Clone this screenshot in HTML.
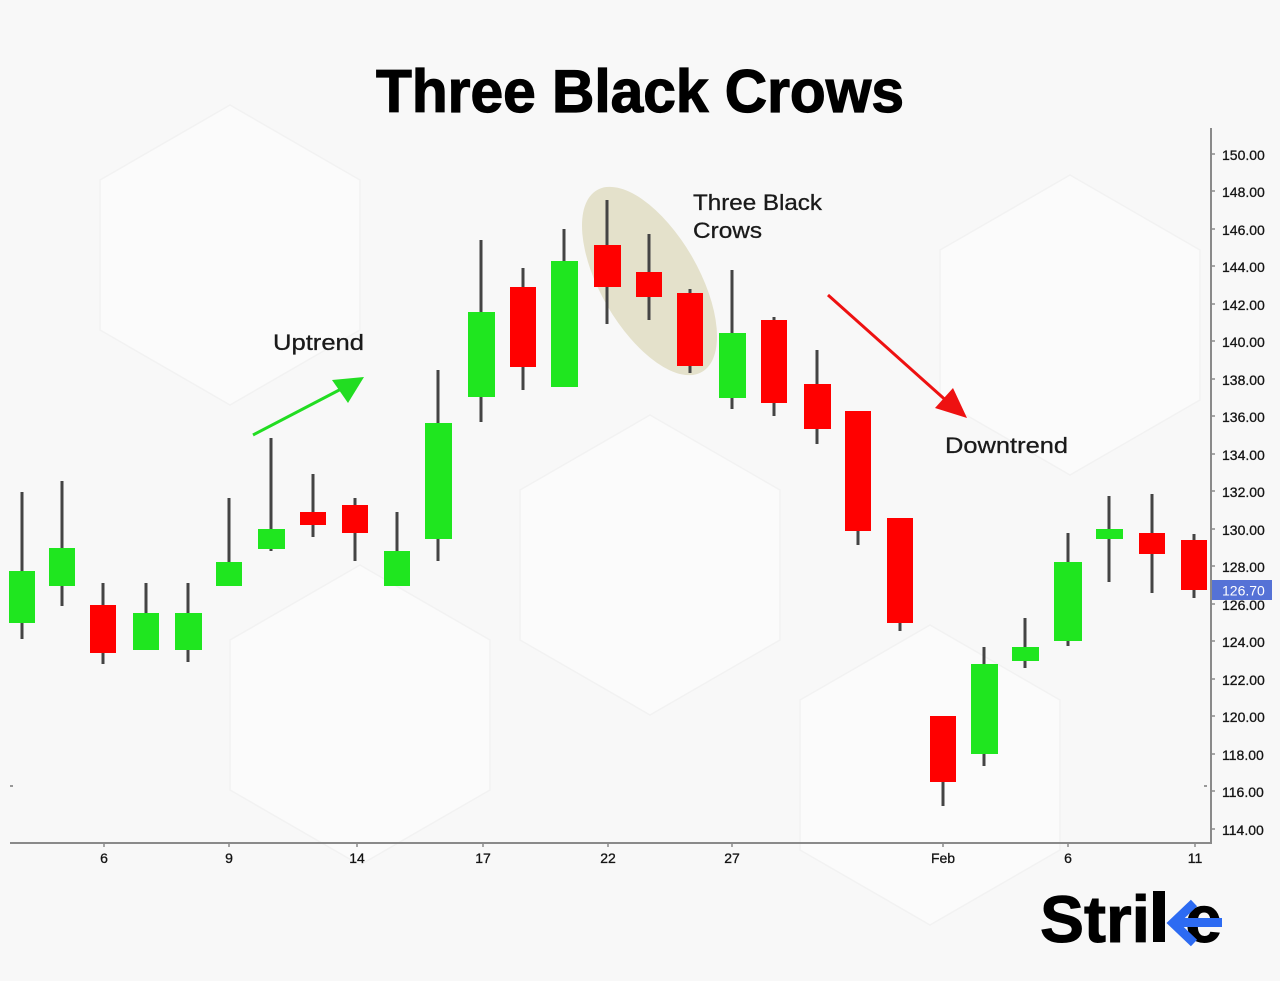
<!DOCTYPE html>
<html><head><meta charset="utf-8"><style>
html,body{margin:0;padding:0;background:#f8f8f8;}
svg{display:block;}
</style></head><body>
<svg width="1280" height="981" viewBox="0 0 1280 981" xmlns="http://www.w3.org/2000/svg">
<rect x="0" y="0" width="1280" height="981" fill="#f8f8f8"/>
<g fill="#fbfbfb" stroke="#f2f2f2" stroke-width="1.5">
<polygon points="520,490 650,415 780,490 780,640 650,715 520,640"/>
<polygon points="940,250 1070,175 1200,250 1200,400 1070,475 940,400"/>
<polygon points="100,180 230,105 360,180 360,330 230,405 100,330"/>
<polygon points="230,640 360,565 490,640 490,790 360,865 230,790"/>
<polygon points="800,700 930,625 1060,700 1060,850 930,925 800,850"/>
</g>
<!-- title -->
<text x="640" y="112" text-anchor="middle" font-family="Liberation Sans, sans-serif" font-weight="bold" font-size="60" fill="#000" stroke="#000" stroke-width="1.2" textLength="528" lengthAdjust="spacingAndGlyphs">Three Black Crows</text>
<!-- ellipse -->
<ellipse cx="649.5" cy="281" rx="105" ry="49" transform="rotate(60 649.5 281)" fill="#e4e1cb"/>
<!-- axes -->
<line x1="1211" y1="128" x2="1211" y2="843" stroke="#8a8a8a" stroke-width="2"/>
<line x1="10" y1="843" x2="1212" y2="843" stroke="#8a8a8a" stroke-width="2"/>
<g stroke="#8a8a8a" stroke-width="1.5">
<line x1="1211" y1="154" x2="1215" y2="154"/><line x1="1211" y1="191" x2="1215" y2="191"/>
<line x1="1211" y1="229" x2="1215" y2="229"/><line x1="1211" y1="266" x2="1215" y2="266"/>
<line x1="1211" y1="304" x2="1215" y2="304"/><line x1="1211" y1="341" x2="1215" y2="341"/>
<line x1="1211" y1="379" x2="1215" y2="379"/><line x1="1211" y1="416" x2="1215" y2="416"/>
<line x1="1211" y1="454" x2="1215" y2="454"/><line x1="1211" y1="491" x2="1215" y2="491"/>
<line x1="1211" y1="529" x2="1215" y2="529"/><line x1="1211" y1="566" x2="1215" y2="566"/>
<line x1="1211" y1="604" x2="1215" y2="604"/><line x1="1211" y1="641" x2="1215" y2="641"/>
<line x1="1211" y1="679" x2="1215" y2="679"/><line x1="1211" y1="716" x2="1215" y2="716"/>
<line x1="1211" y1="754" x2="1215" y2="754"/><line x1="1211" y1="791" x2="1215" y2="791"/>
<line x1="1211" y1="829" x2="1215" y2="829"/>
<line x1="104" y1="843" x2="104" y2="847"/><line x1="229" y1="843" x2="229" y2="847"/>
<line x1="357" y1="843" x2="357" y2="847"/><line x1="483" y1="843" x2="483" y2="847"/>
<line x1="608" y1="843" x2="608" y2="847"/><line x1="732" y1="843" x2="732" y2="847"/>
<line x1="943" y1="843" x2="943" y2="847"/><line x1="1068" y1="843" x2="1068" y2="847"/>
<line x1="1195" y1="843" x2="1195" y2="847"/>
</g>
<rect x="10" y="785" width="3" height="2" fill="#999"/>
<rect x="1204" y="785" width="3" height="2" fill="#999"/>
<g font-family="Liberation Sans, sans-serif" font-size="14" fill="#151515" stroke="#151515" stroke-width="0.3">
<text x="1222" y="160">150.00</text><text x="1222" y="197">148.00</text>
<text x="1222" y="235">146.00</text><text x="1222" y="272">144.00</text>
<text x="1222" y="310">142.00</text><text x="1222" y="347">140.00</text>
<text x="1222" y="385">138.00</text><text x="1222" y="422">136.00</text>
<text x="1222" y="460">134.00</text><text x="1222" y="497">132.00</text>
<text x="1222" y="535">130.00</text><text x="1222" y="572">128.00</text>
<text x="1222" y="610">126.00</text><text x="1222" y="647">124.00</text>
<text x="1222" y="685">122.00</text><text x="1222" y="722">120.00</text>
<text x="1222" y="760">118.00</text><text x="1222" y="797">116.00</text>
<text x="1222" y="835">114.00</text>
</g>
<rect x="1212" y="580" width="60" height="20" fill="#5572d6"/>
<text x="1222" y="595.5" font-family="Liberation Sans, sans-serif" font-size="14" fill="#ffffff">126.70</text>
<g font-family="Liberation Sans, sans-serif" font-size="14" fill="#151515" stroke="#151515" stroke-width="0.3" text-anchor="middle">
<text x="104" y="863">6</text><text x="229" y="863">9</text><text x="357" y="863">14</text>
<text x="483" y="863">17</text><text x="608" y="863">22</text><text x="732" y="863">27</text>
<text x="943" y="863">Feb</text><text x="1068" y="863">6</text><text x="1195" y="863">11</text>
</g>
<!-- candles -->
<g stroke="#444" stroke-width="3">
<line x1="22" y1="492" x2="22" y2="639"/>
<line x1="62" y1="481" x2="62" y2="606"/>
<line x1="103" y1="583" x2="103" y2="664"/>
<line x1="146" y1="583" x2="146" y2="650"/>
<line x1="188" y1="583" x2="188" y2="662"/>
<line x1="229" y1="498" x2="229" y2="586"/>
<line x1="271" y1="438" x2="271" y2="551"/>
<line x1="313" y1="474" x2="313" y2="537"/>
<line x1="355" y1="498" x2="355" y2="561"/>
<line x1="397" y1="512" x2="397" y2="586"/>
<line x1="438" y1="370" x2="438" y2="561"/>
<line x1="481" y1="240" x2="481" y2="422"/>
<line x1="523" y1="268" x2="523" y2="390"/>
<line x1="564" y1="229" x2="564" y2="387"/>
<line x1="607" y1="200" x2="607" y2="324"/>
<line x1="649" y1="234" x2="649" y2="320"/>
<line x1="690" y1="289" x2="690" y2="373"/>
<line x1="732" y1="270" x2="732" y2="409"/>
<line x1="774" y1="317" x2="774" y2="416"/>
<line x1="817" y1="350" x2="817" y2="444"/>
<line x1="858" y1="411" x2="858" y2="545"/>
<line x1="900" y1="518" x2="900" y2="631"/>
<line x1="943" y1="716" x2="943" y2="806"/>
<line x1="984" y1="647" x2="984" y2="766"/>
<line x1="1025" y1="618" x2="1025" y2="668"/>
<line x1="1068" y1="533" x2="1068" y2="646"/>
<line x1="1109" y1="496" x2="1109" y2="582"/>
<line x1="1152" y1="494" x2="1152" y2="593"/>
<line x1="1194" y1="534" x2="1194" y2="598"/>
</g>
<g>
<rect x="9" y="571" width="26" height="52" fill="#1fe61f"/>
<rect x="49" y="548" width="26" height="38" fill="#1fe61f"/>
<rect x="90" y="605" width="26" height="48" fill="#ff0000"/>
<rect x="133" y="613" width="26" height="37" fill="#1fe61f"/>
<rect x="175" y="613" width="27" height="37" fill="#1fe61f"/>
<rect x="216" y="562" width="26" height="24" fill="#1fe61f"/>
<rect x="258" y="529" width="27" height="20" fill="#1fe61f"/>
<rect x="300" y="512" width="26" height="13" fill="#ff0000"/>
<rect x="342" y="505" width="26" height="28" fill="#ff0000"/>
<rect x="384" y="551" width="26" height="35" fill="#1fe61f"/>
<rect x="425" y="423" width="27" height="116" fill="#1fe61f"/>
<rect x="468" y="312" width="27" height="85" fill="#1fe61f"/>
<rect x="510" y="287" width="26" height="80" fill="#ff0000"/>
<rect x="551" y="261" width="27" height="126" fill="#1fe61f"/>
<rect x="594" y="245" width="27" height="42" fill="#ff0000"/>
<rect x="636" y="272" width="26" height="25" fill="#ff0000"/>
<rect x="677" y="293" width="26" height="73" fill="#ff0000"/>
<rect x="719" y="333" width="27" height="65" fill="#1fe61f"/>
<rect x="761" y="320" width="26" height="83" fill="#ff0000"/>
<rect x="804" y="384" width="27" height="45" fill="#ff0000"/>
<rect x="845" y="411" width="26" height="120" fill="#ff0000"/>
<rect x="887" y="518" width="26" height="105" fill="#ff0000"/>
<rect x="930" y="716" width="26" height="66" fill="#ff0000"/>
<rect x="971" y="664" width="27" height="90" fill="#1fe61f"/>
<rect x="1012" y="647" width="27" height="14" fill="#1fe61f"/>
<rect x="1054" y="562" width="28" height="79" fill="#1fe61f"/>
<rect x="1096" y="529" width="27" height="10" fill="#1fe61f"/>
<rect x="1139" y="533" width="26" height="21" fill="#ff0000"/>
<rect x="1181" y="540" width="26" height="50" fill="#ff0000"/>
</g>
<!-- arrows -->
<line x1="253" y1="435" x2="345" y2="387" stroke="#22dd22" stroke-width="3"/>
<polygon points="364,377 332,380 348,403" fill="#22dd22"/>
<line x1="828" y1="295" x2="950" y2="404" stroke="#ee1111" stroke-width="3"/>
<polygon points="967,418 935,408 953,388" fill="#ee1111"/>
<!-- annotations -->
<g font-family="Liberation Sans, sans-serif" font-size="22" fill="#1a1a1a" stroke="#1a1a1a" stroke-width="0.3">
<text x="273" y="350" textLength="91" lengthAdjust="spacingAndGlyphs">Uptrend</text>
<text x="693" y="210" textLength="129" lengthAdjust="spacingAndGlyphs">Three Black</text>
<text x="693" y="238" textLength="69" lengthAdjust="spacingAndGlyphs">Crows</text>
<text x="945" y="453" textLength="123" lengthAdjust="spacingAndGlyphs">Downtrend</text>
</g>
<!-- logo -->
<text x="1040" y="942" font-family="Liberation Sans, sans-serif" font-weight="bold" font-size="66" fill="#000" stroke="#000" stroke-width="1" textLength="110" lengthAdjust="spacingAndGlyphs">Stri</text>
<rect x="1153" y="891" width="12" height="51" fill="#000"/>
<text x="1222" y="942" text-anchor="end" font-family="Liberation Sans, sans-serif" font-weight="bold" font-size="66" fill="#000" stroke="#000" stroke-width="1">e</text>
<polyline points="1194,903 1173,923 1194,943" fill="none" stroke="#2d6bf2" stroke-width="9"/>
<rect x="1172" y="918" width="50" height="9" fill="#2d6bf2"/>
</svg>
</body></html>
